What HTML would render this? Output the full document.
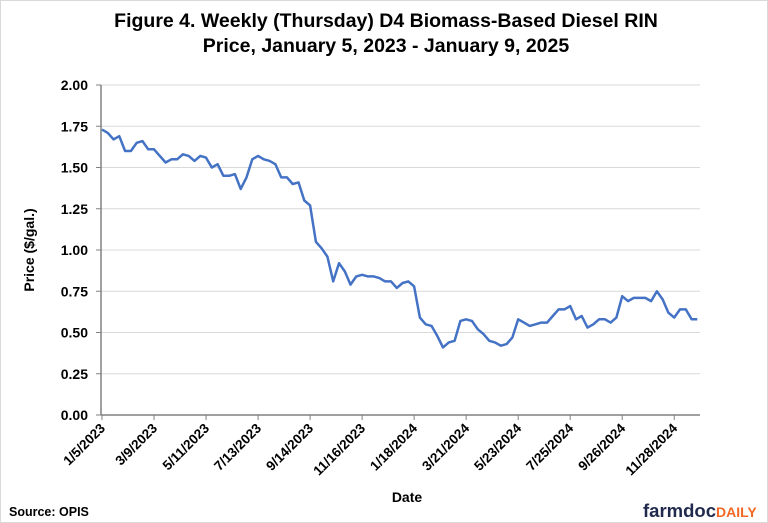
<!DOCTYPE html>
<html><head><meta charset="utf-8"><style>
body{margin:0;background:#fff;}
svg{display:block;font-family:"Liberation Sans",Arial,sans-serif;}
</style></head><body>
<svg id="chart" width="768" height="523" viewBox="0 0 768 523">
<rect x="0.5" y="0.5" width="767" height="522" fill="#fff" stroke="#d9d9d9"/>
<text x="386" y="27" text-anchor="middle" font-size="19.5" font-weight="bold" fill="#000">Figure 4. Weekly (Thursday) D4 Biomass-Based Diesel RIN</text>
<text x="386" y="52" text-anchor="middle" font-size="19.5" font-weight="bold" fill="#000">Price, January 5, 2023 - January 9, 2025</text>
<g id="grid"></g><g id="yaxis"></g><g id="xaxis"></g><g id="series"></g>
<text transform="translate(34,250) rotate(-90)" text-anchor="middle" font-size="14" font-weight="bold">Price ($/gal.)</text>
<text x="407" y="502" text-anchor="middle" font-size="14" font-weight="bold">Date</text>
<text x="9" y="516" font-size="12.5" font-weight="bold">Source: OPIS</text>
<g>
<text x="643" y="517" font-size="18.5" font-weight="bold" fill="#1f2a4d">farmdoc<tspan font-size="14" fill="#f26722">DAILY</tspan></text>
</g>
</svg>
<script>
const values=[1.73,1.71,1.67,1.69,1.60,1.60,1.65,1.66,1.61,1.61,1.57,1.53,1.55,1.55,1.58,1.57,1.54,1.57,1.56,1.50,1.52,1.45,1.45,1.46,1.37,1.44,1.55,1.57,1.55,1.54,1.52,1.44,1.44,1.40,1.41,1.30,1.27,1.05,1.01,0.96,0.81,0.92,0.87,0.79,0.84,0.85,0.84,0.84,0.83,0.81,0.81,0.77,0.80,0.81,0.78,0.59,0.55,0.54,0.48,0.41,0.44,0.45,0.57,0.58,0.57,0.52,0.49,0.45,0.44,0.42,0.43,0.47,0.58,0.56,0.54,0.55,0.56,0.56,0.60,0.64,0.64,0.66,0.58,0.60,0.53,0.55,0.58,0.58,0.56,0.59,0.72,0.69,0.71,0.71,0.71,0.69,0.75,0.70,0.62,0.59,0.64,0.64,0.58,0.58];
const tickLabels=["1/5/2023","3/9/2023","5/11/2023","7/13/2023","9/14/2023","11/16/2023","1/18/2024","3/21/2024","5/23/2024","7/25/2024","9/26/2024","11/28/2024"];
const yTicks=[0,0.25,0.5,0.75,1.0,1.25,1.5,1.75,2.0];
const NS="http://www.w3.org/2000/svg";
const X0=101,X1=700,Y0=415,Y1=85,step=5.78;
const xs=i=>X0+1+i*step;
const ys=v=>Y0-(v/2)*(Y0-Y1);
function mk(t,a,p){const e=document.createElementNS(NS,t);for(const k in a)e.setAttribute(k,a[k]);p.appendChild(e);return e;}
const grid=document.getElementById('grid'),ya=document.getElementById('yaxis'),xa=document.getElementById('xaxis'),se=document.getElementById('series');
yTicks.forEach(v=>{
 if(v>0){const g=mk('line',{x1:X0,x2:X1,y1:ys(v),y2:ys(v),stroke:'#d9d9d9','stroke-width':1},grid);
 
 }
 const tk=mk('line',{x1:X0-5,x2:X0,y1:ys(v),y2:ys(v),stroke:'#808080'},ya);
 
 
 const t=mk('text',{x:88,y:ys(v)+5,'text-anchor':'end','font-size':14,'font-weight':'bold'},ya);
 t.textContent=v.toFixed(2);
 
 
});
const axY=mk('line',{x1:X0,x2:X0,y1:Y1,y2:Y0,stroke:'#808080','stroke-width':1.5},ya);


const axX=mk('line',{x1:X0,x2:X1,y1:Y0,y2:Y0,stroke:'#808080','stroke-width':1.5},xa);


tickLabels.forEach((l,k)=>{
 const x=xs(k*9);
 const tk=mk('line',{x1:x,x2:x,y1:Y0,y2:Y0+5,stroke:'#808080'},xa);
 
 
 const t=mk('text',{x:x+4,y:Y0+14,'text-anchor':'end','font-size':13.5,'font-weight':'bold',transform:`rotate(-45 ${x+4} ${Y0+14})`},xa);
 t.textContent=l;
 
 
});
const p=mk('polyline',{points:values.map((v,i)=>xs(i).toFixed(1)+','+ys(v).toFixed(1)).join(' '),fill:'none',stroke:'#4472c4','stroke-width':2.5,'stroke-linejoin':'round'},se);


</script>
</body></html>
